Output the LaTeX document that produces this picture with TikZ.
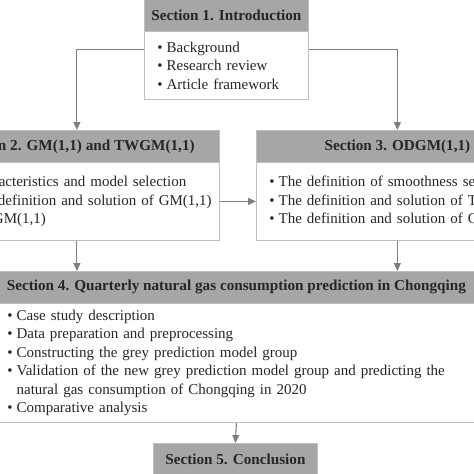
\documentclass[tikz,border=0pt]{standalone}
\usepackage{fontspec}
\setmainfont{Liberation Serif}
\usetikzlibrary{positioning,arrows.meta}
\definecolor{headgrey}{HTML}{A6A6A6}
\definecolor{edgegrey}{HTML}{BFBFBF}
\definecolor{arrowgrey}{HTML}{7F7F7F}
\definecolor{textdark}{HTML}{262626}
\newcommand{\itm}{\textbullet\hspace{4pt}}
\newcommand{\cont}{\phantom{\textbullet}\hspace{4pt}}

\begin{document}
\begin{tikzpicture}[x=1pt,y=-1pt,
  head/.style={draw=edgegrey,fill=headgrey,line width=0.8pt,anchor=north west,
    minimum height=32pt,inner sep=0pt,text=textdark,
    font=\fontsize{15.2}{18.5}\selectfont\bfseries},
  body/.style={draw=edgegrey,fill=white,line width=0.8pt,anchor=north west,
    inner xsep=13pt,inner ysep=0pt,align=left,text=textdark,
    font=\fontsize{15}{18.5}\selectfont},
  arr/.style={draw=arrowgrey,line width=1.1pt,-{Triangle[length=8pt,width=7pt]}}]
\useasboundingbox (0,0) rectangle (474,474);

% section 1
\node[head,minimum width=164pt] (s1h) at (144,-1) {Section 1. Introduction};
\node[body,text width=138pt,minimum height=68pt] (s1b) at (144,31)
  {\itm Background\\ \itm Research review\\ \itm Article framework};

% section 2 and 3
\node[head,minimum width=285pt] (s2h) at (-66,130) {Section 2. GM(1,1) and TWGM(1,1)};
\node[body,inner xsep=26pt,text width=233pt,minimum height=78pt] (s2b) at (-66,162)
  {\begin{tabular}{@{}l@{}}
   \itm Characteristics and model selection\\
   \itm The definition and solution of GM(1,1)\\
   \itm TWGM(1,1)
   \end{tabular}};
\node[head,minimum width=282pt] (s3h) at (256,130) {Section 3. ODGM(1,1)};
\node[body,text width=256pt,minimum height=78pt] (s3b) at (256,162)
  {\begin{tabular}{@{}l@{}}
   \itm The definition of smoothness sequence\\
   \itm The definition and solution of TDGM(1,1)\\
   \itm The definition and solution of ODGM(1,1)
   \end{tabular}};

% section 4
\node[head,minimum width=496pt] (s4h) at (-12,271)
  {Section 4. Quarterly natural gas consumption prediction in Chongqing};
\node[body,inner xsep=19pt,text width=458pt,minimum height=119pt] (s4b) at (-12,303)
  {\itm Case study description\\ \itm Data preparation and preprocessing\\
   \itm Constructing the grey prediction model group\\
   \itm Validation of the new grey prediction model group and predicting the\\
   \cont natural gas consumption of Chongqing in 2020\\ \itm Comparative analysis};

% section 5
\node[head,minimum width=164pt] (s5) at (153,443) {Section 5. Conclusion};

% arrows
\draw[arr] ([yshift=16pt]s1b.west) -| (s2h.north);
\draw[arr] ([yshift=16pt]s1b.east) -| (s3h.north);
\draw[arr] (s2b.east) -- (s3b.west);
\draw[arr] (s2b.south) -- (s2b.south |- s4h.north);
\draw[arr] (s3b.south) -- (s3b.south |- s4h.north);
\draw[arr] (s4b.south) -- (s5.north);
\end{tikzpicture}
\end{document}
